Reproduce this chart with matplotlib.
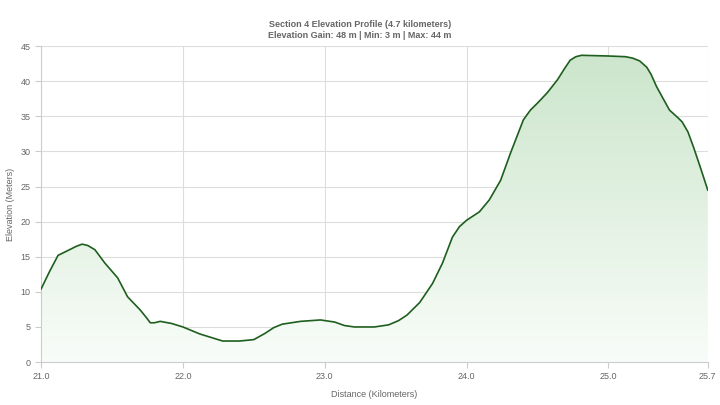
import matplotlib
matplotlib.use('Agg')
import matplotlib.pyplot as plt
import numpy as np

# distance (km) and elevation (m)
dist = [21.00, 21.06, 21.12, 21.20, 21.25, 21.29, 21.33, 21.38, 21.45, 21.54,
        21.61, 21.70, 21.74, 21.77, 21.80, 21.84, 21.92, 22.00, 22.12, 22.28,
        22.40, 22.50, 22.58, 22.64, 22.70, 22.83, 22.97, 23.07, 23.14, 23.21,
        23.35, 23.45, 23.52, 23.58, 23.67, 23.76, 23.83, 23.90, 23.95, 24.00,
        24.09, 24.16, 24.24, 24.31, 24.40, 24.45, 24.50, 24.57, 24.64, 24.69,
        24.73, 24.77, 24.81, 25.00, 25.12, 25.17, 25.22, 25.27, 25.30, 25.34,
        25.43, 25.49, 25.52, 25.56, 25.60, 25.65, 25.70]
elev = [10.4, 12.9, 15.2, 16.0, 16.5, 16.8, 16.6, 16.0, 14.1, 12.0,
        9.3, 7.4, 6.4, 5.6, 5.6, 5.8, 5.5, 5.0, 4.0, 3.0,
        3.0, 3.2, 4.1, 4.9, 5.4, 5.8, 6.0, 5.7, 5.2, 5.0,
        5.0, 5.3, 5.9, 6.7, 8.5, 11.2, 14.1, 17.8, 19.3, 20.2,
        21.4, 23.1, 25.9, 29.8, 34.5, 35.9, 36.9, 38.4, 40.2, 41.8,
        43.0, 43.5, 43.7, 43.6, 43.5, 43.3, 42.9, 42.0, 41.0, 39.2,
        35.9, 34.8, 34.2, 32.8, 30.6, 27.6, 24.5]
xticks = [21.0, 22.0, 23.0, 24.0, 25.0, 25.7]
yticks = list(range(0, 50, 5))

title = 'Section 4 Elevation Profile (4.7 kilometers)\nElevation Gain: 48 m | Min: 3 m | Max: 44 m'

plt.rcParams['font.family'] = ['Liberation Sans', 'DejaVu Sans']
grey = '#666666'

fig = plt.figure(figsize=(7.2, 4.05), dpi=100)
ax = fig.add_axes([0.057, 0.106, 0.926, 0.780])

# gradient fill under the line
poly = ax.fill_between(dist, elev, 0, color='none')
grad = np.linspace(0, 1, 256).reshape(-1, 1)
cmap = matplotlib.colors.LinearSegmentedColormap.from_list(
    'g', [(0.975, 0.99, 0.975), (0.80, 0.90, 0.80)])
img = ax.imshow(grad, cmap=cmap, aspect='auto', origin='lower',
                extent=[dist[0], dist[-1], 0, max(elev)], zorder=1)
path = poly.get_paths()[0]
img.set_clip_path(path, transform=ax.transData)

ax.plot(dist, elev, color='#1e5e1e', lw=1.2, zorder=3,
        solid_joinstyle='round')

ax.set_xlim(21.0, 25.7)
ax.set_ylim(0, 45)
ax.set_xticks(xticks)
ax.set_xticklabels(['%.1f' % t for t in xticks])
ax.set_yticks(yticks)
ax.grid(True, color='#dddddd', lw=0.8, zorder=0)
ax.set_axisbelow(True)
for s in ['top', 'right']:
    ax.spines[s].set_visible(False)
for s in ['left', 'bottom']:
    ax.spines[s].set_color('#cccccc')
ax.tick_params(colors='#cccccc', labelcolor=grey, labelsize=6.5,
               length=4, width=0.8)

ax.set_xlabel('Distance (Kilometers)', fontsize=6.5, color=grey, labelpad=6)
ax.set_ylabel('Elevation (Meters)', fontsize=6.5, color=grey, labelpad=4)
fig.text(0.5, 0.925, title, ha='center', va='center', fontsize=6.5,
         color=grey, fontweight='bold', linespacing=1.3)

fig.savefig('out.png', dpi=100)
